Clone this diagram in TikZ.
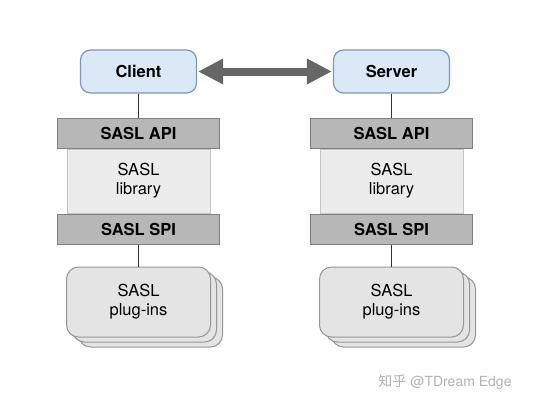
\documentclass[tikz,border=0pt]{standalone}
\usepackage{fontspec}
\setsansfont{TeX Gyre Heros}
\newfontfamily\cjkfont{Noto Sans CJK SC}
\usetikzlibrary{arrows.meta,positioning}
\definecolor{hostfill}{RGB}{219,232,246}
\definecolor{hostdraw}{RGB}{122,152,190}
\definecolor{apifill}{RGB}{183,183,183}
\definecolor{apidraw}{RGB}{128,128,128}
\definecolor{libfill}{RGB}{236,236,236}
\definecolor{libdraw}{RGB}{196,196,196}
\definecolor{plugfill}{RGB}{228,228,228}
\definecolor{plugdraw}{RGB}{150,150,150}
\definecolor{arrowgray}{RGB}{102,102,102}
\begin{document}
\begin{tikzpicture}
			[x=1pt,y=-1pt,
			font=\sffamily\fontsize{16.5}{19}\selectfont,
			hostnode/.style={draw=hostdraw,fill=hostfill,line width=1.2pt,rounded corners=10pt,minimum width=116pt,minimum height=43pt,font=\sffamily\bfseries\fontsize{16.5}{19}\selectfont},
			apinode/.style={draw=apidraw,fill=apifill,line width=1pt,minimum width=162pt,minimum height=30pt,font=\sffamily\bfseries\fontsize{16.5}{19}\selectfont},
			libnode/.style={draw=libdraw,fill=libfill,line width=1pt,minimum width=143pt,minimum height=64pt,align=center},
			plugnode/.style={draw=plugdraw,fill=plugfill,line width=1pt,rounded corners=12pt,minimum width=144pt,minimum height=70pt,align=center},
			link/.style={draw=black!80,line width=0.8pt}]
		\useasboundingbox (0,0) rectangle (537,408);
		\foreach \side/\x/\host in {c/138.5/Client,s/391.5/Server}
		{
			\node[hostnode,name=\side host] at (\x,71.5) {\host};
			\node[apinode,name=\side api] at (\x,133) {SASL API};
			\node[libnode,name=\side lib,below=0pt of \side api] {SASL\\library};
			\node[apinode,name=\side spi,below=0pt of \side lib] {SASL SPI};
			\node[plugnode,name=\side plugc] at (\x+12,312) {};
			\node[plugnode,name=\side plugb] at (\x+6,307) {};
			\node[plugnode,name=\side plug] at (\x,302) {SASL\\plug-ins};
			\draw[link] (\side host) -- (\side api);
			\draw[link] (\side spi) -- (\side plug);
		}
		\draw[arrowgray,line width=8pt,{Triangle[length=25pt,width=24pt]}-{Triangle[length=25pt,width=24pt]},shorten <=1pt,shorten >=1pt] (chost) -- (shost);
		\node[text=black!30,font=\sffamily\fontsize{14}{16}\selectfont,name=mark] at (445,382) {{\cjkfont 知乎} @TDream Edge};
		\end{tikzpicture}
\end{document}
